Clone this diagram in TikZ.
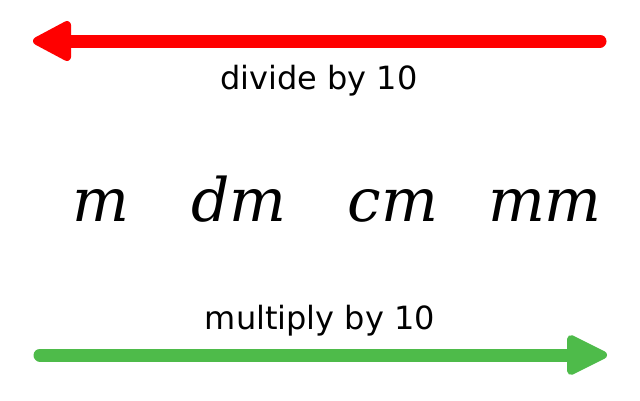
\documentclass[tikz,border=0pt]{standalone}
\usepackage{fontspec}
\setmainfont{DejaVu Sans}
\newfontfamily\unitfont{DejaVu Serif}
\definecolor{arrred}{RGB}{255,0,0}
\definecolor{arrgreen}{RGB}{78,187,74}
\begin{document}
\begin{tikzpicture}[x=1pt,y=-1pt,
  shaft/.style={line width=13pt,line cap=round},
  head/.style={line width=8pt,line join=round},
  lbl/.style={anchor=base,inner sep=0pt,font=\fontsize{32}{36}\selectfont},
  unit/.style={anchor=base,inner sep=0pt,font=\unitfont\itshape\fontsize{60}{66}\selectfont}]
\useasboundingbox (0,0) rectangle (640,400);
\coordinate (rs) at (600,41);
\coordinate (re) at (62,41);
\coordinate (gs) at (40,355);
\coordinate (ge) at (578,355);
\draw[shaft,arrred] (rs) -- (re);
\filldraw[head,arrred] (37,41) -- (67,25) -- (67,57) -- cycle;
\draw[shaft,arrgreen] (gs) -- (ge);
\filldraw[head,arrgreen] (603,355) -- (571,339) -- (571,371) -- cycle;
\node[lbl] (div) at (319,89) {divide by 10};
\node[lbl] (mul) at (320,329) {multiply by 10};
\node[unit] (m) at (101,221) {m};
\node[unit] (dm) at (239,221) {dm};
\node[unit] (cm) at (393,221) {cm};
\node[unit] (mm) at (545,221) {mm};
\end{tikzpicture}
\end{document}
